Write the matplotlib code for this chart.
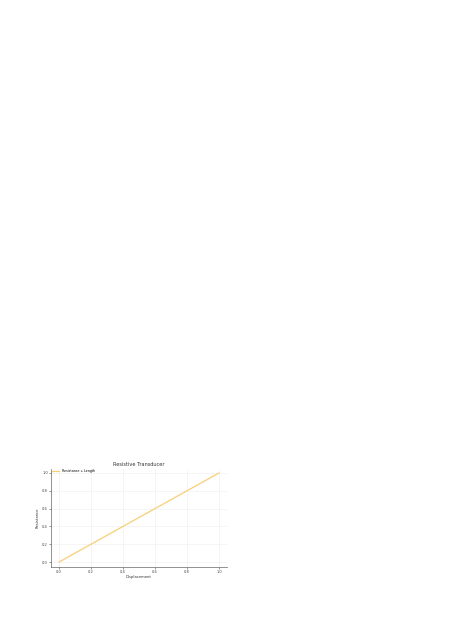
import numpy as np
import matplotlib
matplotlib.use("Agg")
from matplotlib import pyplot as plt

# data: resistance grows linearly with displacement
displacement = [0.0, 0.2, 0.4, 0.6, 0.8, 1.0]
resistance = [0.0, 0.2, 0.4, 0.6, 0.8, 1.0]
x_ticks = [0.0, 0.2, 0.4, 0.6, 0.8, 1.0]
y_ticks = [0.0, 0.2, 0.4, 0.6, 0.8, 1.0]

fig = plt.figure(figsize=(4.74, 6.32), dpi=100)
ax = fig.add_axes([0.1076, 0.1036, 0.3714, 0.1551])

ax.plot(displacement, resistance, color='#f6cf78', linewidth=0.9,
        label='Resistance \u221d Length')

ax.set_title('Resistive Transducer', fontsize=3.6, color='#333333', pad=1.5)
ax.set_xlabel('Displacement', fontsize=2.7, color='#333333', labelpad=1)
ax.set_ylabel('Resistance', fontsize=2.7, color='#333333', labelpad=1.5)
ax.set_xticks(x_ticks)
ax.set_yticks(y_ticks)
ax.tick_params(labelsize=2.6, length=1.2, width=0.4, pad=1, colors='#444444')
ax.grid(True, color='#eeeeee', linewidth=0.4)
for side in ['top', 'right']:
    ax.spines[side].set_visible(False)
for side in ['left', 'bottom']:
    ax.spines[side].set_color('#666666')
    ax.spines[side].set_linewidth(0.5)

leg = ax.legend(loc='upper left', fontsize=2.3, frameon=False,
                handlelength=2.2, borderaxespad=0.1, borderpad=0.2)

fig.savefig('out.png', dpi=100)
